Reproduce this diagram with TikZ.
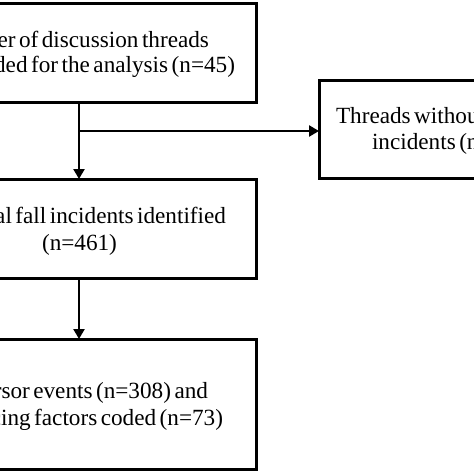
\documentclass[tikz,border=0pt]{standalone}
\usepackage{fontspec}
\setmainfont[WordSpace=0.6]{Liberation Serif}
\usetikzlibrary{arrows.meta}
\begin{document}
\begin{tikzpicture}[x=1pt,y=-1pt,
  box/.style={draw, line width=3pt, inner sep=0pt, outer sep=0pt},
  txt/.style={inner sep=0pt, outer sep=0pt, font=\fontsize{23.2}{26}\selectfont},
  conn/.style={line width=2.4pt, -{Triangle[length=10pt,width=11pt]}}]
\useasboundingbox (0,0) rectangle (474,474);
\fill[white] (0,0) rectangle (474,474);
\clip (0,0) rectangle (474,474);
% boxes
\node[box, minimum width=354pt, minimum height=99pt] (b1) at (79,52.5) {};
\node[box, minimum width=354pt, minimum height=99pt] (b2) at (79,228.5) {};
\node[box, minimum width=354pt, minimum height=130pt] (b3) at (79,404) {};
\node[box, minimum width=300pt, minimum height=98pt] (b4) at (469,129) {};
% texts
\node[txt, anchor=base east] (t1a) at (209,47) {ber of discussion threads};
\node[txt, anchor=base east] (t1b) at (235,72) {ded for the analysis (n=45)};
\node[txt, anchor=base east] (t2a) at (226,223) {ual fall incidents identified};
\node[txt, anchor=base] (t2b) at (79.5,250) {(n=461)};
\node[txt, anchor=base east] (t3a) at (208,398) {rsor events (n=308) and};
\node[txt, anchor=base east] (t3b) at (223,425) {cing factors coded (n=73)};
\node[txt, anchor=base west] (t4a) at (336,123) {Threads withou};
\node[txt, anchor=base west] (t4b) at (372,149) {incidents (n};
% connectors
\coordinate (j) at (b1.south |- 0,131);
\draw[conn] (b1.south) -- (b2.north);
\draw[conn] (j) -- (b4.west |- j);
\draw[conn] (b2.south) -- (b3.north);
\end{tikzpicture}
\end{document}
